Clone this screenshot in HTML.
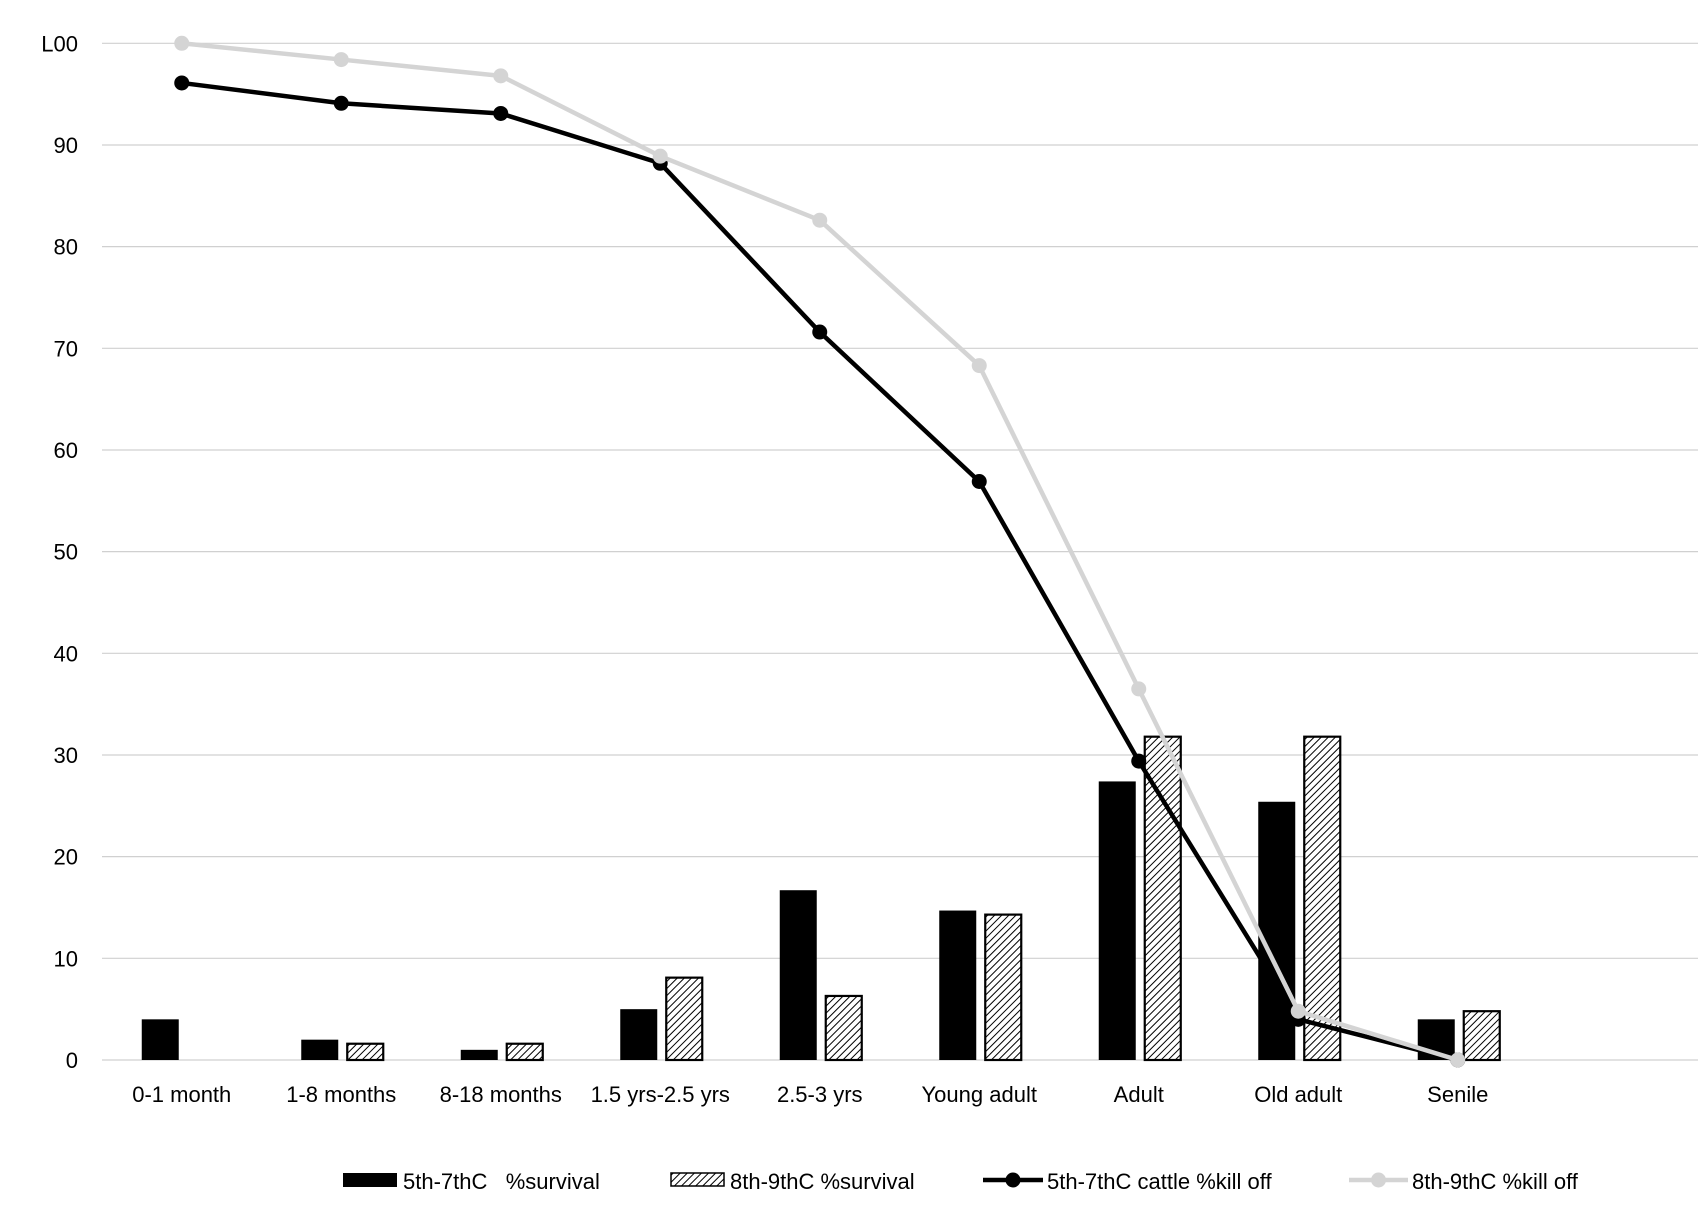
<!DOCTYPE html>
<html><head><meta charset="utf-8"><style>
html,body{margin:0;padding:0;background:#fff;}
svg{display:block;font-family:"Liberation Sans",sans-serif;}
text{white-space:pre;}
</style></head><body>
<svg id="chart" width="1698" height="1218">
<defs>
<pattern id="hatch" patternUnits="userSpaceOnUse" width="5" height="5" patternTransform="rotate(45)">
<rect width="5" height="5" fill="#fff"/><line x1="0" y1="0" x2="0" y2="5" stroke="#000" stroke-width="2"/>
</pattern>
</defs>
<g id="grid"></g><g id="bars"></g><g id="lines"></g><g id="labels"></g><g id="legend"></g>
</svg>
<script>
const categories=["0-1 month","1-8 months","8-18 months","1.5 yrs-2.5 yrs","2.5-3 yrs","Young adult","Adult","Old adult","Senile"];
const survival57=[4,2,1,5,16.7,14.7,27.4,25.4,4];
const survival89=[0,1.6,1.6,8.1,6.3,14.3,31.8,31.8,4.8];
const killoff57=[96.1,94.1,93.1,88.2,71.6,56.9,29.4,4,0];
const killoff89=[100,98.4,96.8,88.9,82.6,68.3,36.5,4.8,0];
const yTicks=[0,10,20,30,40,50,60,70,80,90,100];
const yTickLabels=["0","10","20","30","40","50","60","70","80","90","L00"];
const NS="http://www.w3.org/2000/svg";
const left=102,band=159.5,y0=1060,y100=43.3;
const xc=i=>left+band*(i+0.5);
const y=v=>y0-(y0-y100)*v/100;
function mk(tag,attrs,parent){const e=document.createElementNS(NS,tag);for(const k in attrs)e.setAttribute(k,attrs[k]);parent.appendChild(e);return e;}
const grid=document.getElementById('grid'),bars=document.getElementById('bars'),lines=document.getElementById('lines'),labels=document.getElementById('labels'),legend=document.getElementById('legend');
yTicks.forEach((t,i)=>{
 const l=mk('line',{x1:left,x2:1698,y1:y(t),y2:y(t),stroke:'#d0d0d0','stroke-width':1.2},grid);
 
 
 const tx=mk('text',{x:78,y:y(t)+8,'text-anchor':'end','font-size':22,fill:'#000'},labels);
 tx.textContent=yTickLabels[i];
 
 
});
categories.forEach((c,i)=>{
 const tx=mk('text',{x:xc(i),y:1102,'text-anchor':'middle','font-size':22,fill:'#000'},labels);
 tx.textContent=c;
 
 
 if(survival57[i]>0){const r=mk('rect',{x:xc(i)-40,y:y(survival57[i]),width:37,height:y0-y(survival57[i]),fill:'#000'},bars);
 
 }
 if(survival89[i]>0){const r=mk('rect',{x:xc(i)+6,y:y(survival89[i]),width:36,height:y0-y(survival89[i]),fill:'url(#hatch)',stroke:'#000','stroke-width':2.2},bars);
 
 }
});
function series(vals,color,name){
 const p=mk('polyline',{points:vals.map((v,i)=>xc(i)+','+y(v)).join(' '),fill:'none',stroke:color,'stroke-width':4.5,'stroke-linejoin':'round'},lines);
 
 
 vals.forEach((v,i)=>{const c=mk('circle',{cx:xc(i),cy:y(v),r:7.5,fill:color},lines);
 
 });
}
series(killoff57,'#000','killoff-5th-7th');
series(killoff89,'#d4d4d4','killoff-8th-9th');
const ly=1181;
let r=mk('rect',{x:343,y:ly-8,width:54,height:14,fill:'#000'},legend);


r=mk('rect',{x:671,y:ly-8,width:53,height:13,fill:'url(#hatch)',stroke:'#000','stroke-width':1.5},legend);


[[983,1043,'#000'],[1349,1408,'#d4d4d4']].forEach((s,k)=>{
 const l=mk('line',{x1:s[0],x2:s[1],y1:ly-1,y2:ly-1,stroke:s[2],'stroke-width':4.5},legend);
 
 
 const c=mk('circle',{cx:(s[0]+s[1])/2,cy:ly-1,r:7.5,fill:s[2]},legend);
 
 
});
[[403,'5th-7thC   %survival'],[730,'8th-9thC %survival'],[1047,'5th-7thC cattle %kill off'],[1412,'8th-9thC %kill off']].forEach((t,k)=>{
 const tx=mk('text',{x:t[0],y:ly+8,'font-size':22,fill:'#000'},legend);
 tx.textContent=t[1];
 
 
});
</script>
</body></html>
